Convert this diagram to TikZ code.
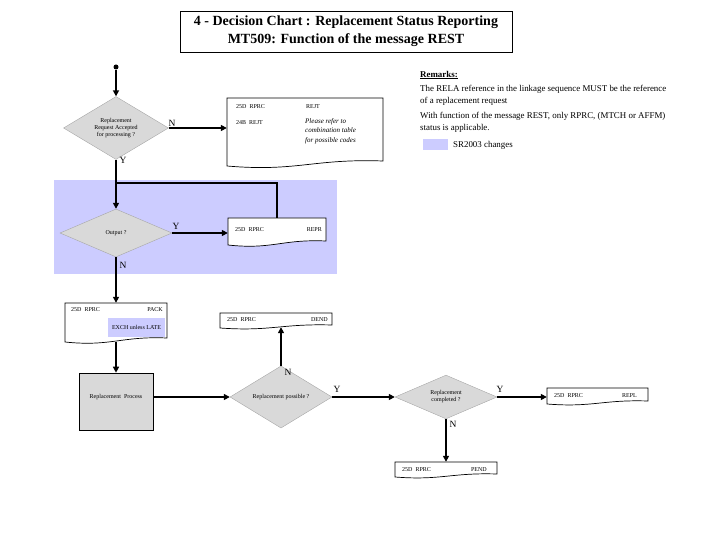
\documentclass[tikz,border=0pt]{standalone}
\usepackage{fontspec}
\setmainfont{Liberation Serif}
\usetikzlibrary{arrows.meta,shapes.geometric,fit,calc}
\definecolor{lilac}{HTML}{CCCCFF}
\definecolor{dgray}{HTML}{D9D9D9}
\newcommand\docbox[6]{%
  \path[docline] (#2,#3) -- (#4,#3) -- (#4,#5-#6) .. controls ({#2+0.55*(#4-#2)},{#5-1.5*#6}) and ({#2+0.45*(#4-#2)},{#5+1.2*#6}) .. (#2,#5) -- cycle;
  \node[fit={(#2,#3) (#4,#5)}, inner sep=0pt] (#1) {};
}
\tikzset{
  docline/.style={draw=black, line width=0.7pt, fill=white},
  dec/.style={diamond, draw=gray!70, fill=dgray, inner sep=0pt, font=\fontsize{6}{7}\selectfont, align=center},
  flow/.style={line width=1.8pt, -{Triangle[length=6pt,width=6pt]}},
  plain/.style={line width=1.8pt},
  yn/.style={font=\fontsize{9.5}{10}\selectfont, inner sep=0pt},
  tx/.style={font=\fontsize{6}{7}\selectfont, inner sep=0pt, anchor=west},
  txe/.style={tx, anchor=east},
  rem/.style={font=\fontsize{8.9}{12}\selectfont, inner sep=0pt, align=left},
}
\begin{document}
\begin{tikzpicture}[x=1pt,y=-1pt]
\useasboundingbox (0,0) rectangle (720,540);

% title
\node[draw, line width=0.8pt, minimum width=332pt, minimum height=41pt, align=center,
  font=\fontsize{14}{18}\selectfont\bfseries] (title) at (346,31.5)
  {4 - Decision Chart : Replacement Status Reporting\\MT509: Function of the message REST};

% remarks
\node[rem, anchor=west, font=\fontsize{8.9}{12}\selectfont\bfseries] (remh) at (420,75) {\underline{Remarks:}};
\node[rem, anchor=north west] (rem1) at (420,85) {The RELA reference in the linkage sequence MUST be the reference\\of a replacement request};
\node[rem, anchor=north west] (rem2) at (420,112) {With function of the message REST, only RPRC, (MTCH or AFFM)\\status is applicable.};
\node[fill=lilac, minimum width=25pt, minimum height=11pt, inner sep=0pt] (leg) at (435.5,144.5) {};
\node[rem, anchor=west] (legt) at (453,145) {SR2003 changes};

% SR2003 region
\node[fill=lilac, fit={(54,180) (337,274)}, inner sep=0pt] (sr) {};

% document boxes
\docbox{b1}{227}{98}{383}{166}{5}
\docbox{b2}{228}{218}{326}{245}{4}
\docbox{b3}{65}{303}{167}{342}{4}
\node[fill=lilac, fit={(108,318) (165,337)}, inner sep=0pt] (exch) {};
\docbox{b4}{220}{313}{332}{328}{3}
\docbox{b5}{547}{388}{648}{404}{3}
\docbox{b6}{395}{462}{497}{477}{3}

% texts in boxes
\node[tx] (b1a) at (236,107) {25D~~RPRC};
\node[tx] (b1b) at (306,107) {REJT};
\node[tx] (b1c) at (236,123) {24B~~REJT};
\node[tx, anchor=north west, align=left, font=\fontsize{7}{9.6}\selectfont\itshape] (b1d) at (305,118) {Please refer to\\combination table\\for possible codes};
\node[tx] (b2a) at (235,230) {25D~~RPRC};
\node[txe] (b2b) at (322,230) {REPR};
\node[tx] (b3a) at (71,310) {25D~~RPRC};
\node[txe] (b3b) at (163,310) {PACK};
\node[tx, anchor=center] (b3c) at (136.5,327.5) {EXCH unless LATE};
\node[tx] (b4a) at (227,320) {25D~~RPRC};
\node[txe] (b4b) at (328,320) {DEND};
\node[tx] (b5a) at (554,396) {25D~~RPRC};
\node[txe] (b5b) at (637,396) {REPL};
\node[tx] (b6a) at (402,470) {25D~~RPRC};
\node[txe] (b6b) at (487,470) {PEND};

% start and decisions
\node[circle, fill=black, inner sep=0pt, minimum size=5pt] (start) at (116,67) {};
\node[dec, minimum width=105pt, minimum height=47pt] (d1) at (116,128) {Replacement\\Request Accepted\\for processing ?};
\node[dec, minimum width=112pt, minimum height=48pt] (d2) at (116,233) {Output ?};
\node[draw, fill=dgray, line width=0.6pt, minimum width=74pt, minimum height=57pt, inner sep=0pt] (proc) at (116,401.5) {};
\node[tx, anchor=center] (proct) at (116,397) {Replacement~~Process};
\node[dec, minimum width=102pt, minimum height=45pt] (d3) at (281,397) {Replacement possible ?};
\node[dec, minimum width=102pt, minimum height=40pt] (d4) at (446,397) {Replacement\\completed ?};

\coordinate (merge) at (116,183);

% connectors
\draw[flow] (start) -- (d1.north);
\draw[flow] (d1.east) -- (b1.west |- d1.east);
\draw[plain] (b2.north) |- (merge);
\draw[flow] (d1.south) -- (d2.north);
\draw[flow] (d2.east) -- (b2.west |- d2.east);
\draw[flow] (d2.south) -- (b3.north);
\draw[flow] (b3.south) -- (proc.north);
\draw[flow] (proc.east |- d3.west) -- (d3.west);
\draw[flow] (d3.north) -- ($(d3.north |- b4.south)+(0,-1)$);
\draw[flow] (d3.east) -- (d4.west);
\draw[flow] (d4.east) -- (b5.west |- d4.east);
\draw[flow] (d4.south) -- (b6.north);

% Y/N labels
\node[yn] (l1) at (172,123) {N};
\node[yn] (l2) at (123,160) {Y};
\node[yn] (l3) at (176,226) {Y};
\node[yn] (l4) at (123,265) {N};
\node[yn] (l5) at (288,372) {N};
\node[yn] (l6) at (337,389) {Y};
\node[yn] (l7) at (500,389) {Y};
\node[yn] (l8) at (453,424) {N};
\end{tikzpicture}
\end{document}
